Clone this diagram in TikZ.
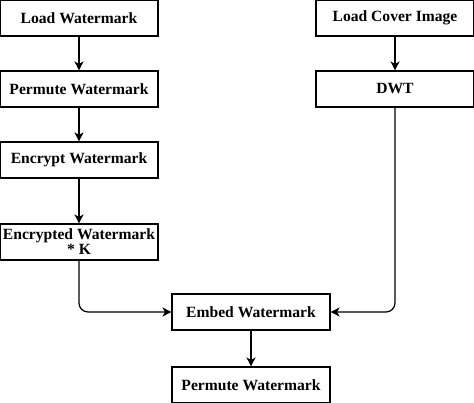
\documentclass[tikz,border=0pt]{standalone}
\usepackage{fontspec}
\setmainfont{Liberation Serif}
\usetikzlibrary{arrows.meta}

\tikzset{
  stage/.style={draw, line width=1.1pt, minimum width=158pt, minimum height=36pt,
    inner sep=0pt, align=center, font=\fontsize{15.6}{15}\selectfont\bfseries},
  flow/.style={line width=1.2pt, -{Stealth[length=9pt,width=9pt,inset=2.5pt]}}
}

\begin{document}
\begin{tikzpicture}[x=1pt,y=-1pt]

  \useasboundingbox (0,0) rectangle (474,403);

  \node[stage] (loadwm) at (79,18) {Load Watermark};
  \node[stage] (permwm) at (79,89) {Permute Watermark};
  \node[stage] (encwm) at (79,160) {Encrypt Watermark};
  \node[stage] (enck) at (79,242) {Encrypted Watermark\\* K};

  \node[stage] (loadcov) at (395,18) {Load Cover Image};
  \node[stage] (dwt) at (395,89) {DWT};

  \node[stage] (embed) at (251,312) {Embed Watermark};
  \node[stage] (permout) at (251,385) {Permute Watermark};

  \draw[flow] (loadwm) -- (permwm);
  \draw[flow] (permwm) -- (encwm);
  \draw[flow] (encwm) -- (enck);
  \draw[flow] (loadcov) -- (dwt);
  \draw[flow] (embed) -- (permout);

  \draw[flow, rounded corners=9pt] (enck) |- (embed);
  \draw[flow, rounded corners=9pt] (dwt) |- (embed);

\end{tikzpicture}
\end{document}
